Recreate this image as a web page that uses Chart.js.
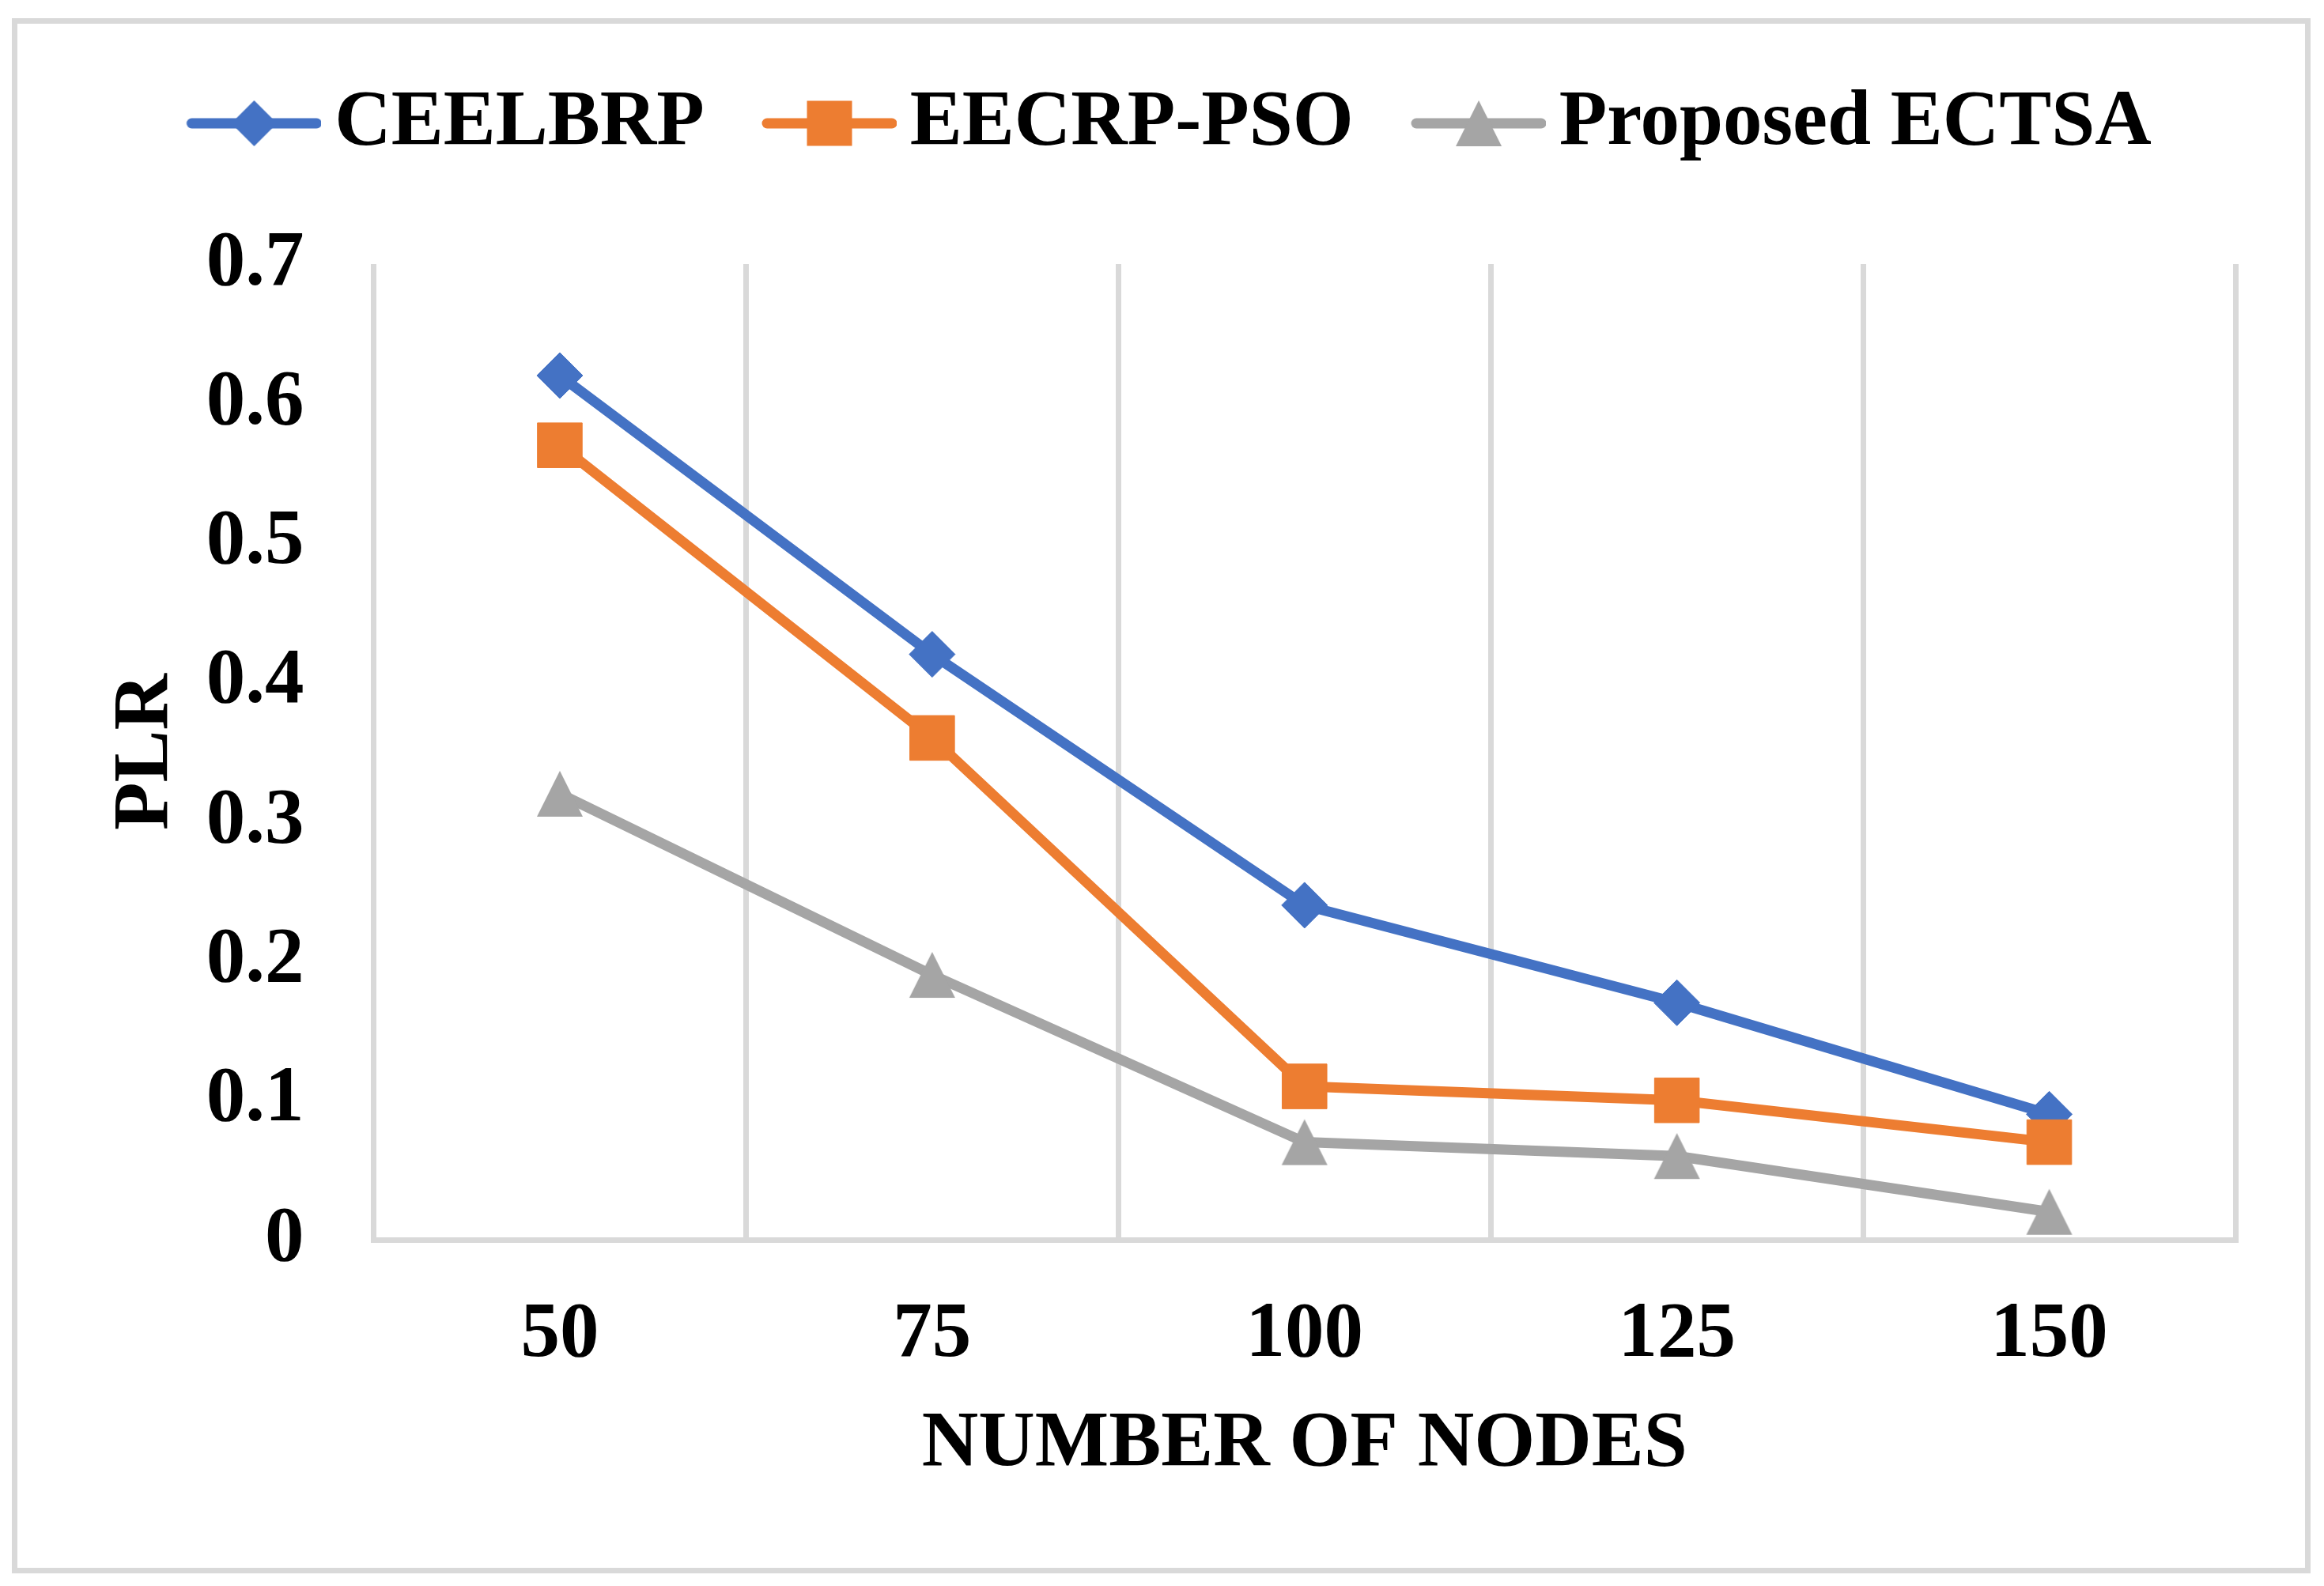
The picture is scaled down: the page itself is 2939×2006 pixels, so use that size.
<!DOCTYPE html>
<html>
<head>
<meta charset="utf-8">
<script src="https://cdn.jsdelivr.net/npm/chart.js@4.4.1/dist/chart.umd.min.js"></script>
<style>
  html, body { margin: 0; padding: 0; background: #fff; }
  #wrap { width: 2939px; height: 2006px; }
</style>
</head>
<body>
<div id="wrap"><canvas id="plr" width="2939" height="2006"></canvas></div>
<script>
// data
const categories = ['50', '75', '100', '125', '150'];
const seriesNames = ['CEELBRP', 'EECRP-PSO', 'Proposed ECTSA'];
const ceelbrp = [0.62, 0.42, 0.24, 0.17, 0.09];
const eecrpPso = [0.57, 0.36, 0.11, 0.10, 0.07];
const ectsa = [0.32, 0.19, 0.07, 0.06, 0.02];
const yTickLabels = ['0', '0.1', '0.2', '0.3', '0.4', '0.5', '0.6', '0.7'];

const colors = ['#4472C4', '#ED7D31', '#A5A5A5'];
const font = { family: "'Liberation Serif', 'Times New Roman', serif", weight: 'bold', size: 99 };

// excel style triangle (as wide as high)
function triangleImg(color) {
  const c = document.createElement('canvas');
  c.width = 60; c.height = 60;
  const g = c.getContext('2d');
  g.fillStyle = color;
  g.beginPath();
  g.moveTo(30, 1); g.lineTo(59, 59); g.lineTo(1, 59); g.closePath();
  g.fill();
  return c;
}

// legend sample: line with the marker in the middle
function legendImg(i) {
  const c = document.createElement('canvas');
  c.width = 216; c.height = 60;
  const g = c.getContext('2d');
  const col = colors[i];
  g.strokeStyle = col; g.fillStyle = col;
  g.lineWidth = 13; g.lineCap = 'round';
  g.beginPath(); g.moveTo(52, 30); g.lineTo(210, 30); g.stroke();
  const cx = 131, cy = 30;
  g.beginPath();
  if (i === 0) {
    g.moveTo(cx - 29, cy); g.lineTo(cx, cy - 29); g.lineTo(cx + 29, cy); g.lineTo(cx, cy + 29);
  } else if (i === 1) {
    g.rect(cx - 28.5, cy - 28.5, 57, 57);
  } else {
    g.moveTo(cx, cy - 29); g.lineTo(cx + 29, cy + 29); g.lineTo(cx - 29, cy + 29);
  }
  g.closePath(); g.fill();
  return c;
}
const legendImgs = [0, 1, 2].map(legendImg);

// outer frame + white background
const framePlugin = {
  id: 'frame',
  beforeDraw(chart) {
    const ctx = chart.ctx;
    ctx.save();
    ctx.fillStyle = '#fff';
    ctx.fillRect(0, 0, chart.width, chart.height);
    ctx.strokeStyle = '#d9d9d9';
    ctx.lineWidth = 7;
    ctx.strokeRect(18.5, 26.5, 2900, 1960);
    ctx.restore();
  }
};

new Chart(document.getElementById('plr'), {
  type: 'line',
  data: {
    labels: categories,
    datasets: [
      {
        label: seriesNames[0], data: ceelbrp, order: 3,
        borderColor: colors[0], backgroundColor: colors[0],
        pointStyle: 'rectRot', pointRadius: 29, pointBorderWidth: 1
      },
      {
        label: seriesNames[1], data: eecrpPso, order: 2,
        borderColor: colors[1], backgroundColor: colors[1],
        pointStyle: 'rect', pointRadius: 40, pointBorderWidth: 1
      },
      {
        label: seriesNames[2], data: ectsa, order: 1,
        borderColor: colors[2], backgroundColor: colors[2],
        pointStyle: triangleImg(colors[2]), pointRadius: 30
      }
    ].map(d => Object.assign(d, {
      borderWidth: 13, tension: 0, fill: false,
      borderCapStyle: 'round', borderJoinStyle: 'round'
    }))
  },
  options: {
    responsive: false,
    animation: false,
    events: [],
    layout: { padding: { left: 117, right: 112, top: 46.5, bottom: 30 } },
    plugins: {
      tooltip: { enabled: false },
      // empty title used as a spacer between legend and plot
      title: {
        display: true, text: ' ', position: 'top', weight: 500,
        font: { size: 20, lineHeight: 1 }, padding: { top: 98.5, bottom: 0 }
      },
      legend: {
        position: 'top',
        align: 'center',
        labels: {
          usePointStyle: true,
          pointStyleWidth: 150.5,
          padding: 60,
          font: font,
          color: '#000',
          generateLabels: () => seriesNames.map((n, i) => ({
            text: n, pointStyle: legendImgs[i], fillStyle: colors[i],
            strokeStyle: colors[i], lineWidth: 0, hidden: false, datasetIndex: i
          }))
        }
      }
    },
    scales: {
      x: {
        type: 'category',
        offset: true,
        grid: { offset: true, color: '#d9d9d9', lineWidth: 7, drawTicks: false },
        border: { display: true, color: '#d9d9d9', width: 7 },
        ticks: { font: font, color: '#000', padding: 62, maxRotation: 0, autoSkip: false },
        title: { display: true, text: 'NUMBER OF NODES', font: font, color: '#000', padding: { top: 0, bottom: 89 } },
        afterFit: s => { s.height = 408; }
      },
      y: {
        min: 0,
        max: 0.7,
        grid: { display: false, drawTicks: false },
        border: { display: false },
        ticks: {
          stepSize: 0.1, padding: 88, font: font, color: '#000',
          callback: v => yTickLabels[Math.round(v * 10)]
        },
        title: { display: true, text: 'PLR', font: font, color: '#000', padding: { top: 9, bottom: 0 } },
        afterFit: s => { s.width = 355.5; }
      }
    }
  },
  plugins: [framePlugin]
});
</script>
</body>
</html>
